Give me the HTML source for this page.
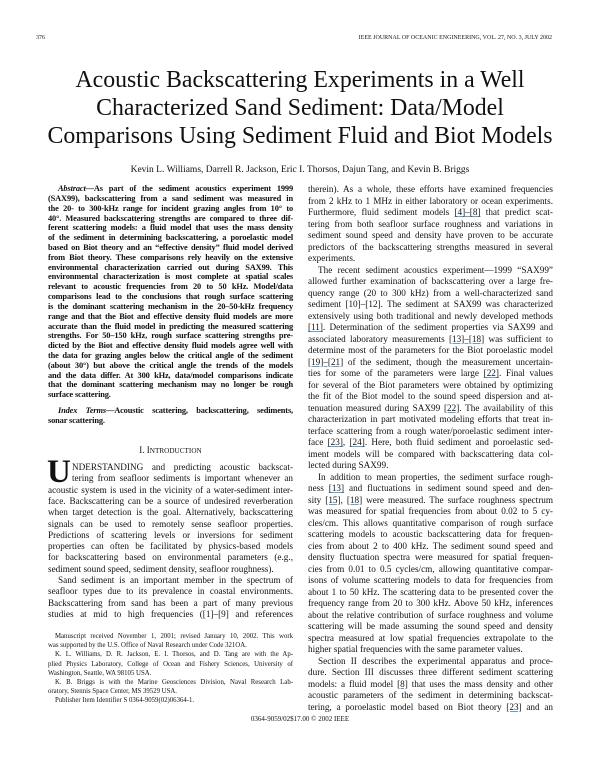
<!DOCTYPE html>
<html><head><meta charset="utf-8"><style>
html,body{margin:0;padding:0;background:#fff}
body{width:600px;height:776px;position:relative;overflow:hidden;font-family:"Liberation Serif",serif;color:#111}
.l{position:absolute;white-space:nowrap;text-align:justify;text-align-last:justify;font-size:9.2px;line-height:12px;height:12px}
.L{left:48px;width:245px}.R{left:308px;width:245px}
.e{text-align-last:left}
.b{font-weight:bold;font-size:8.4px;line-height:10px;height:10px;letter-spacing:-0.15px}
.f{font-size:6.8px;line-height:9px;height:9px}
.t{position:absolute;left:0;width:600px;text-align:center;font-size:23.8px;line-height:28px;white-space:nowrap}
a{color:inherit;text-decoration:underline;text-decoration-color:#6aa0d0}
</style></head><body>
<div style="position:absolute;left:36px;top:35px;font-size:6px">376</div>
<div style="position:absolute;right:48px;top:35px;font-size:6px">IEEE JOURNAL OF OCEANIC ENGINEERING, VOL. 27, NO. 3, JULY 2002</div>
<div class="t" style="top:66px">Acoustic Backscattering Experiments in a Well</div>
<div class="t" style="top:94px">Characterized Sand Sediment: Data/Model</div>
<div class="t" style="top:122px">Comparisons Using Sediment Fluid and Biot Models</div>
<div style="position:absolute;left:0;width:600px;text-align:center;top:165px;font-size:9.5px">Kevin L. Williams, Darrell R. Jackson, Eric I. Thorsos, Dajun Tang, and Kevin B. Briggs</div>

<div class="l L b" style="top:184px;left:58px;width:235px"><i>Abstract</i>—As part of the sediment acoustics experiment 1999</div>
<div class="l L b" style="top:193.8px">(SAX99), backscattering from a sand sediment was measured in</div>
<div class="l L b" style="top:203.6px">the 20- to 300-kHz range for incident grazing angles from 10° to</div>
<div class="l L b" style="top:213.5px">40°. Measured backscattering strengths are compared to three dif-</div>
<div class="l L b" style="top:223.3px">ferent scattering models: a fluid model that uses the mass density</div>
<div class="l L b" style="top:233.1px">of the sediment in determining backscattering, a poroelastic model</div>
<div class="l L b" style="top:242.9px">based on Biot theory and an “effective density” fluid model derived</div>
<div class="l L b" style="top:252.7px">from Biot theory. These comparisons rely heavily on the extensive</div>
<div class="l L b" style="top:262.6px">environmental characterization carried out during SAX99. This</div>
<div class="l L b" style="top:272.4px">environmental characterization is most complete at spatial scales</div>
<div class="l L b" style="top:282.2px">relevant to acoustic frequencies from 20 to 50 kHz. Model/data</div>
<div class="l L b" style="top:292px">comparisons lead to the conclusions that rough surface scattering</div>
<div class="l L b" style="top:301.8px">is the dominant scattering mechanism in the 20–50-kHz frequency</div>
<div class="l L b" style="top:311.7px">range and that the Biot and effective density fluid models are more</div>
<div class="l L b" style="top:321.5px">accurate than the fluid model in predicting the measured scattering</div>
<div class="l L b" style="top:331.3px">strengths. For 50–150 kHz, rough surface scattering strengths pre-</div>
<div class="l L b" style="top:341.1px">dicted by the Biot and effective density fluid models agree well with</div>
<div class="l L b" style="top:350.9px">the data for grazing angles below the critical angle of the sediment</div>
<div class="l L b" style="top:360.8px">(about 30°) but above the critical angle the trends of the models</div>
<div class="l L b" style="top:370.6px">and the data differ. At 300 kHz, data/model comparisons indicate</div>
<div class="l L b" style="top:380.4px">that the dominant scattering mechanism may no longer be rough</div>
<div class="l L b e" style="top:390.2px">surface scattering.</div>
<div class="l L b" style="top:406px;left:58px;width:235px"><i>Index Terms</i>—Acoustic scattering, backscattering, sediments,</div>
<div class="l L b e" style="top:416px">sonar scattering.</div>

<div style="position:absolute;left:48px;width:245px;text-align:center;top:445px;font-size:9px">I. I<span style="font-size:7.2px">NTRODUCTION</span></div>
<div style="position:absolute;left:47px;top:455px;font-size:33px;line-height:34px;font-weight:bold">U</div>
<div class="l L" style="top:461px;left:72px;width:221px">NDERSTANDING and predicting acoustic backscat-</div>
<div class="l L" style="top:472.3px;left:72px;width:221px">tering from seafloor sediments is important whenever an</div>
<div class="l L" style="top:483.6px">acoustic system is used in the vicinity of a water-sediment inter-</div>
<div class="l L" style="top:494.9px">face. Backscattering can be a source of undesired reverberation</div>
<div class="l L" style="top:506.2px">when target detection is the goal. Alternatively, backscattering</div>
<div class="l L" style="top:517.5px">signals can be used to remotely sense seafloor properties.</div>
<div class="l L" style="top:528.8px">Predictions of scattering levels or inversions for sediment</div>
<div class="l L" style="top:540.1px">properties can often be facilitated by physics-based models</div>
<div class="l L" style="top:551.4px">for backscattering based on environmental parameters (e.g.,</div>
<div class="l L e" style="top:562.7px">sediment sound speed, sediment density, seafloor roughness).</div>
<div class="l L" style="top:574px;left:58px;width:235px">Sand sediment is an important member in the spectrum of</div>
<div class="l L" style="top:585.3px">seafloor types due to its prevalence in coastal environments.</div>
<div class="l L" style="top:596.6px">Backscattering from sand has been a part of many previous</div>
<div class="l L" style="top:607.9px">studies at mid to high frequencies ([1]–[9] and references</div>

<div class="l L f" style="top:632px;left:55px;width:238px">Manuscript received November 1, 2001; revised January 10, 2002. This work</div>
<div class="l L f e" style="top:641.2px">was supported by the U.S. Office of Naval Research under Code 321OA.</div>
<div class="l L f" style="top:650.4px;left:55px;width:238px">K. L. Williams, D. R. Jackson, E. I. Thorsos, and D. Tang are with the Ap-</div>
<div class="l L f" style="top:659.6px">plied Physics Laboratory, College of Ocean and Fishery Sciences, University of</div>
<div class="l L f e" style="top:668.8px">Washington, Seattle, WA 98105 USA.</div>
<div class="l L f" style="top:678px;left:55px;width:238px">K. B. Briggs is with the Marine Geosciences Division, Naval Research Lab-</div>
<div class="l L f e" style="top:687.2px">oratory, Stennis Space Center, MS 39529 USA.</div>
<div class="l L f e" style="top:696.4px;left:55px;width:238px">Publisher Item Identifier S 0364-9059(02)06364-1.</div>

<div class="l R" style="top:183px">therein). As a whole, these efforts have examined frequencies</div>
<div class="l R" style="top:194.5px">from 2 kHz to 1 MHz in either laboratory or ocean experiments.</div>
<div class="l R" style="top:206px">Furthermore, fluid sediment models <a>[4]–[8]</a> that predict scat-</div>
<div class="l R" style="top:217.5px">tering from both seafloor surface roughness and variations in</div>
<div class="l R" style="top:229px">sediment sound speed and density have proven to be accurate</div>
<div class="l R" style="top:240.5px">predictors of the backscattering strengths measured in several</div>
<div class="l R e" style="top:252px">experiments.</div>
<div class="l R" style="top:263.5px;left:318px;width:235px">The recent sediment acoustics experiment—1999 “SAX99”</div>
<div class="l R" style="top:275px">allowed further examination of backscattering over a large fre-</div>
<div class="l R" style="top:286.5px">quency range (20 to 300 kHz) from a well-characterized sand</div>
<div class="l R" style="top:298px">sediment [10]–[12]. The sediment at SAX99 was characterized</div>
<div class="l R" style="top:309.5px">extensively using both traditional and newly developed methods</div>
<div class="l R" style="top:321px"><a>[11]</a>. Determination of the sediment properties via SAX99 and</div>
<div class="l R" style="top:332.5px">associated laboratory measurements <a>[13]–[18]</a> was sufficient to</div>
<div class="l R" style="top:344px">determine most of the parameters for the Biot poroelastic model</div>
<div class="l R" style="top:355.5px"><a>[19]–[21]</a> of the sediment, though the measurement uncertain-</div>
<div class="l R" style="top:367px">ties for some of the parameters were large <a>[22]</a>. Final values</div>
<div class="l R" style="top:378.5px">for several of the Biot parameters were obtained by optimizing</div>
<div class="l R" style="top:390px">the fit of the Biot model to the sound speed dispersion and at-</div>
<div class="l R" style="top:401.5px">tenuation measured during SAX99 <a>[22]</a>. The availability of this</div>
<div class="l R" style="top:413px">characterization in part motivated modeling efforts that treat in-</div>
<div class="l R" style="top:424.5px">terface scattering from a rough water/poroelastic sediment inter-</div>
<div class="l R" style="top:436px">face <a>[23]</a>, <a>[24]</a>. Here, both fluid sediment and poroelastic sed-</div>
<div class="l R" style="top:447.5px">iment models will be compared with backscattering data col-</div>
<div class="l R e" style="top:459px">lected during SAX99.</div>
<div class="l R" style="top:470.5px;left:318px;width:235px">In addition to mean properties, the sediment surface rough-</div>
<div class="l R" style="top:482px">ness <a>[13]</a> and fluctuations in sediment sound speed and den-</div>
<div class="l R" style="top:493.5px">sity <a>[15]</a>, <a>[18]</a> were measured. The surface roughness spectrum</div>
<div class="l R" style="top:505px">was measured for spatial frequencies from about 0.02 to 5 cy-</div>
<div class="l R" style="top:516.5px">cles/cm. This allows quantitative comparison of rough surface</div>
<div class="l R" style="top:528px">scattering models to acoustic backscattering data for frequen-</div>
<div class="l R" style="top:539.5px">cies from about 2 to 400 kHz. The sediment sound speed and</div>
<div class="l R" style="top:551px">density fluctuation spectra were measured for spatial frequen-</div>
<div class="l R" style="top:562.5px">cies from 0.01 to 0.5 cycles/cm, allowing quantitative compar-</div>
<div class="l R" style="top:574px">isons of volume scattering models to data for frequencies from</div>
<div class="l R" style="top:585.5px">about 1 to 50 kHz. The scattering data to be presented cover the</div>
<div class="l R" style="top:597px">frequency range from 20 to 300 kHz. Above 50 kHz, inferences</div>
<div class="l R" style="top:608.5px">about the relative contribution of surface roughness and volume</div>
<div class="l R" style="top:620px">scattering will be made assuming the sound speed and density</div>
<div class="l R" style="top:631.5px">spectra measured at low spatial frequencies extrapolate to the</div>
<div class="l R e" style="top:643px">higher spatial frequencies with the same parameter values.</div>
<div class="l R" style="top:654.5px;left:318px;width:235px">Section II describes the experimental apparatus and proce-</div>
<div class="l R" style="top:666px">dure. Section III discusses three different sediment scattering</div>
<div class="l R" style="top:677.5px">models: a fluid model <a>[8]</a> that uses the mass density and other</div>
<div class="l R" style="top:689px">acoustic parameters of the sediment in determining backscat-</div>
<div class="l R" style="top:700.5px">tering, a poroelastic model based on Biot theory <a>[23]</a> and an</div>

<div style="position:absolute;left:0;width:600px;text-align:center;top:715px;font-size:7px">0364-9059/02$17.00 © 2002 IEEE</div>
</body></html>
